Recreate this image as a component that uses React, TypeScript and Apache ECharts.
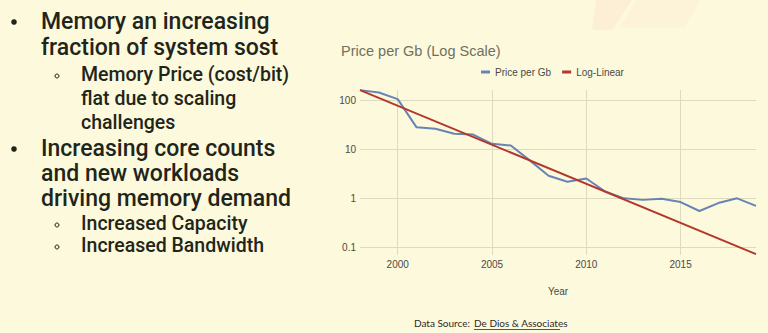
import React, { useEffect, useRef } from "react";
import * as echarts from "echarts";

const years = [1998, 1999, 2000, 2001, 2002, 2003, 2004, 2005, 2006, 2007, 2008, 2009, 2010, 2011, 2012, 2013, 2014, 2015, 2016, 2017, 2018, 2019];
const pricePerGb = [165, 148, 108, 28.5, 26.6, 21, 20.3, 13.1, 12.1, 6.0, 2.9, 2.18, 2.55, 1.38, 1.0, 0.93, 0.98, 0.84, 0.55, 0.8, 1.0, 0.7];
const trendYears = [1998, 2019];
const trendValues = [165, 0.072];
const xTicks = [2000, 2005, 2010, 2015];
const yTicks = [0.1, 1, 10, 100];

const bulletLines: { text: string; level: number; bullet: boolean; y: number }[] = [
  { text: "Memory an increasing", level: 0, bullet: true, y: 21 },
  { text: "fraction of system sost", level: 0, bullet: false, y: 47 },
  { text: "Memory Price (cost/bit)", level: 1, bullet: true, y: 74 },
  { text: "flat due to scaling", level: 1, bullet: false, y: 98.5 },
  { text: "challenges", level: 1, bullet: false, y: 122.5 },
  { text: "Increasing core counts", level: 0, bullet: true, y: 148 },
  { text: "and new workloads", level: 0, bullet: false, y: 173 },
  { text: "driving memory demand", level: 0, bullet: false, y: 198.5 },
  { text: "Increased Capacity", level: 1, bullet: true, y: 223 },
  { text: "Increased Bandwidth", level: 1, bullet: true, y: 245 },
];

export default function App() {
  const ref = useRef<HTMLDivElement>(null);
  useEffect(() => {
    if (!ref.current) return;
    const chart = echarts.init(ref.current, undefined, { renderer: "svg" });
    const textColor = "#1f2619";
    const graphics: any[] = [
      { type: "polygon", shape: { points: [[596, 0], [632, 0], [612, 30], [592, 30]] }, style: { fill: "#fcefd6" }, silent: true },
      { type: "polygon", shape: { points: [[636, 0], [700, 0], [684, 28], [620, 28]] }, style: { fill: "#fdf3d8" }, silent: true },
    ];
    bulletLines.forEach((l) => {
      const big = l.level === 0;
      graphics.push({
        type: "text",
        x: big ? 41 : 81,
        y: l.y,
        style: {
          text: l.text,
          fill: textColor,
          font: big ? "500 23px Roboto" : "500 19.5px Roboto",
          verticalAlign: "middle",
          lineHeight: big ? 22 : 19,
        },
      });
      if (l.bullet) {
        if (big) {
          graphics.push({ type: "circle", shape: { cx: 14, cy: l.y + 1, r: 2.8 }, style: { fill: textColor } });
        } else {
          graphics.push({ type: "circle", shape: { cx: 57, cy: l.y + 2, r: 2 }, style: { fill: "none", stroke: textColor, lineWidth: 1 } });
        }
      }
    });
    graphics.push({
      type: "text",
      x: 470,
      y: 323,
      style: { text: "Data Source:", fill: "#2a2a2a", font: "10px Lato", verticalAlign: "middle", align: "right" },
    });
    graphics.push({
      type: "text",
      x: 474,
      y: 323,
      style: { text: "De Dios & Associates", fill: "#2a2a2a", font: "10px Lato", verticalAlign: "middle" },
    });
    graphics.push({ type: "line", shape: { x1: 474, y1: 329.5, x2: 560, y2: 329.5 }, style: { stroke: "#2a2a2a", lineWidth: 0.8 } });

    chart.setOption({
      animation: false,
      backgroundColor: "#fdf9dc",
      title: {
        text: "Price per Gb (Log Scale)",
        left: 336,
        top: 38,
        textStyle: { fontFamily: "Liberation Sans", fontSize: 14.5, fontWeight: "normal", color: "#707062" },
      },
      legend: {
        top: 62,
        left: 476,
        itemWidth: 9,
        itemHeight: 3,
        itemGap: 11,
        icon: "rect",
        textStyle: { fontFamily: "Liberation Sans", fontSize: 10, color: "#4a4a44" },
        data: ["Price per Gb", "Log-Linear"],
      },
      grid: { left: 360, right: 12, top: 90, bottom: 78, containLabel: false },
      xAxis: {
        type: "value",
        min: 1998,
        max: 2019,
        name: "Year",
        nameLocation: "middle",
        nameGap: 31,
        nameTextStyle: { fontFamily: "Liberation Sans", fontSize: 10, color: "#4a4a44" },
        axisLine: { show: false },
        axisTick: { show: false, customValues: xTicks },
        axisLabel: {
          customValues: xTicks,
          formatter: (v: number) => String(v),
          fontFamily: "Liberation Sans",
          fontSize: 10,
          color: "#4a4a44",
          margin: 4,
        },
        splitLine: { show: true, lineStyle: { color: "#dedac0", width: 1 } },
      },
      yAxis: {
        type: "log",
        logBase: 10,
        min: 0.069,
        max: 166,
        axisLine: { show: false },
        axisTick: { show: false, customValues: yTicks },
        axisLabel: { customValues: yTicks, fontFamily: "Liberation Sans", fontSize: 10, color: "#4a4a44", margin: 4 },
        splitLine: { show: true, lineStyle: { color: "#dedac0", width: 1 } },
      },
      series: [
        {
          name: "Price per Gb",
          type: "line",
          data: years.map((y, i) => [y, pricePerGb[i]]),
          showSymbol: false,
          color: "#6785b4",
          lineStyle: { width: 2 },
        },
        {
          name: "Log-Linear",
          type: "line",
          data: trendYears.map((y, i) => [y, trendValues[i]]),
          showSymbol: false,
          color: "#b3382b",
          lineStyle: { width: 2 },
        },
      ],
      graphic: graphics,
    });
    return () => chart.dispose();
  }, []);
  return <div ref={ref} style={{ width: 768, height: 333, position: "absolute", left: 0, top: 0 }} />;
}
